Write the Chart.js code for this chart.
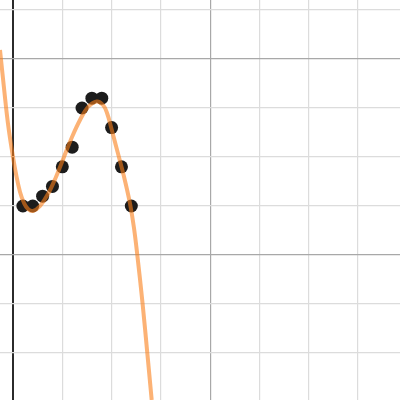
<!DOCTYPE html>
<html>
<head>
<meta charset="utf-8">
<script src="https://cdn.jsdelivr.net/npm/chart.js@4"></script>
<style>
  body { margin: 0; background: #fff; }
  #wrap { width: 400px; height: 400px; }
</style>
</head>
<body>
<div id="wrap"><canvas id="myChart" width="400" height="400"></canvas></div>
<script>
// sampled data points (black dots)
var pointX = [0.2, 0.4, 0.6, 0.8, 1.0, 1.2, 1.4, 1.6, 1.8, 2.0, 2.2, 2.4];
var pointY = [5.0, 5.0, 5.2, 5.4, 5.8, 6.2, 7.0, 7.2, 7.2, 6.6, 5.8, 5.0];

// fitted curve
var curveX = [-0.264, -0.183, -0.101, -0.020, 0.061, 0.142, 0.223, 0.304, 0.406, 0.548, 0.710, 0.872, 1.034, 1.197, 1.359, 1.521, 1.698, 1.826, 1.907, 1.988, 2.089, 2.191, 2.282, 2.379, 2.454, 2.521, 2.627, 2.724, 2.813];
var curveY = [8.184, 7.408, 6.673, 6.122, 5.653, 5.286, 5.061, 4.939, 4.898, 5.000, 5.245, 5.592, 6.000, 6.408, 6.755, 7.020, 7.133, 7.061, 6.898, 6.612, 6.224, 5.837, 5.469, 5.020, 4.551, 4.000, 3.020, 2.000, 1.041];

// grid lines
var xGridTicks = [0, 1, 2, 3, 4, 5, 6, 7];
var yGridTicks = [2, 3, 4, 5, 6, 7, 8, 9];

function gridColor(ctx) {
    var v = ctx.tick ? ctx.tick.value : 1;
    if (v === 0) return '#2b2b2b';
    if (v % 4 === 0) return '#a8a8a8';
    return '#dcdcdc';
}
function gridWidth(ctx) {
    var v = ctx.tick ? ctx.tick.value : 1;
    if (v === 0) return 2;
    return 1.2;
}

function toXY(xs, ys) {
    return xs.map(function (x, i) { return { x: x, y: ys[i] }; });
}

var ctx = document.getElementById('myChart').getContext('2d');
var myChart = new Chart(ctx, {
    type: 'scatter',
    data: {
        datasets: [{
            type: 'line',
            label: 'fit',
            data: toXY(curveX, curveY),
            borderColor: 'rgba(250, 126, 25, 0.6)',
            borderWidth: 4,
            pointRadius: 0,
            tension: 0.4,
            fill: false,
            order: 0
        }, {
            label: 'data',
            data: toXY(pointX, pointY),
            backgroundColor: '#1c1c1c',
            borderWidth: 0,
            pointRadius: 6.5,
            order: 1
        }]
    },
    options: {
        responsive: false,
        animation: false,
        devicePixelRatio: 1,
        layout: { padding: 0, autoPadding: false },
        plugins: {
            legend: { display: false },
            tooltip: { enabled: false }
        },
        scales: {
            x: {
                type: 'linear',
                min: -0.264,
                max: 7.85,
                afterBuildTicks: function (scale) {
                    scale.ticks = xGridTicks.map(function (v) { return { value: v }; });
                },
                ticks: { display: false },
                border: { display: false },
                grid: { color: gridColor, lineWidth: gridWidth, drawTicks: false }
            },
            y: {
                type: 'linear',
                min: 1.041,
                max: 9.204,
                afterBuildTicks: function (scale) {
                    scale.ticks = yGridTicks.map(function (v) { return { value: v }; });
                },
                ticks: { display: false },
                border: { display: false },
                grid: { color: gridColor, lineWidth: gridWidth, drawTicks: false }
            }
        }
    }
});
</script>
</body>
</html>
